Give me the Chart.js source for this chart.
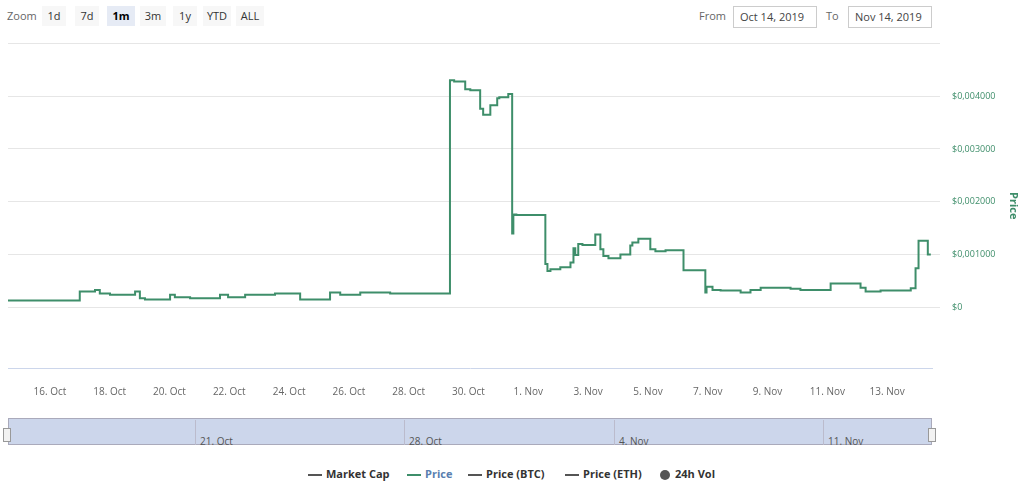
<!DOCTYPE html>
<html><head><meta charset="utf-8">
<script src="https://cdn.jsdelivr.net/npm/chart.js@4"></script>
<style>
body{margin:0;width:1024px;height:488px;background:#fff;font-family:"Open Sans",sans-serif;color:#333;position:relative;overflow:hidden}
.btn{position:absolute;top:6px;height:20px;line-height:20px;font-size:11px;color:#333;background:#f7f7f7;text-align:center}
.inp{position:absolute;top:6px;height:20px;line-height:20px;font-size:11px;border:1px solid #ccc;padding:0 6px;color:#444;white-space:nowrap;overflow:hidden}
#nav{position:absolute;left:8px;top:418px;width:924px;height:27px;background:#ccd6eb;border:1px solid #aab;box-sizing:border-box}
.nl{position:absolute;top:420px;font-size:10px;color:#555;border-left:1px solid #bbc;height:25px;padding-left:4px;line-height:42px}
.lg{position:absolute;top:466px;font-size:11px;font-weight:bold;color:#333;white-space:nowrap}
.lg i{display:inline-block;width:14px;height:2px;background:#555;vertical-align:middle;margin-right:4px}
</style></head><body>
<div style="position:absolute;left:7px;top:6px;font-size:11px;line-height:20px;color:#666">Zoom</div>
<div class="btn" style="left:42px;width:24px">1d</div>
<div class="btn" style="left:75px;width:24px">7d</div>
<div class="btn" style="left:107px;width:28px;background:#e6ebf5;font-weight:bold;color:#000">1m</div>
<div class="btn" style="left:140px;width:26px">3m</div>
<div class="btn" style="left:173px;width:24px">1y</div>
<div class="btn" style="left:203px;width:28px">YTD</div>
<div class="btn" style="left:236px;width:28px">ALL</div>
<div style="position:absolute;left:699px;top:6px;font-size:11px;line-height:20px;color:#666">From</div>
<div class="inp" style="left:733px;width:70px">Oct 14, 2019</div>
<div style="position:absolute;left:826px;top:6px;font-size:11px;line-height:20px;color:#666">To</div>
<div class="inp" style="left:848px;width:70px">Nov 14, 2019</div>
<div style="position:absolute;left:0;top:26px;width:1024px;height:374px"><canvas id="c"></canvas></div>
<div id="nav"></div>
<div class="nl" style="left:195px">21. Oct</div>
<div class="nl" style="left:404px">28. Oct</div>
<div class="nl" style="left:614px">4. Nov</div>
<div class="nl" style="left:823px">11. Nov</div>
<div style="position:absolute;left:3px;top:428px;width:6px;height:12px;background:#f2f2f2;border:1px solid #999"></div>
<div style="position:absolute;left:928px;top:428px;width:6px;height:12px;background:#f2f2f2;border:1px solid #999"></div>
<div class="lg" style="left:308px"><i></i>Market Cap</div>
<div class="lg" style="left:407px;color:#5a7fb0"><i style="background:#3e8e6a"></i>Price</div>
<div class="lg" style="left:468px"><i></i>Price (BTC)</div>
<div class="lg" style="left:565px"><i></i>Price (ETH)</div>
<div class="lg" style="left:660px"><span style="display:inline-block;width:10px;height:10px;border-radius:5px;background:#555;vertical-align:middle;margin-right:5px"></span>24h Vol</div>
<script>
const days=[0.59,3.0,3.51,3.67,4.01,4.85,5.01,5.18,6.02,6.18,6.69,7.69,7.96,8.53,9.53,10.37,10.54,11.37,11.71,12.38,13.38,14.39,15.38,15.52,15.89,16.06,16.39,16.49,16.73,16.96,17.03,17.33,17.46,17.5,17.53,17.6,18.57,18.64,18.74,19.07,19.41,19.51,19.57,19.67,19.81,20.24,20.41,20.51,20.68,21.08,21.41,21.48,21.68,22.08,22.25,22.59,23.19,23.26,23.92,23.96,24.16,24.43,25.1,25.43,25.77,26.77,27.1,28.11,29.11,29.28,29.78,30.79,30.95,31.05,31.12,31.36,31.46];
const price=[0.00015,0.00013,0.0003,0.00033,0.00026,0.00024,0.0003,0.00017,0.00015,0.00024,0.00019,0.00017,0.00024,0.00019,0.00024,0.00026,0.00015,0.00015,0.00028,0.00024,0.00028,0.00026,0.00026,0.0043,0.00428,0.00413,0.00411,0.00376,0.00365,0.00383,0.00396,0.00398,0.00404,0.0014,0.00175,0.00176,0.00175,0.00082,0.00069,0.00072,0.00076,0.00085,0.00112,0.00099,0.0012,0.00118,0.00138,0.0011,0.00097,0.00093,0.001,0.00117,0.00123,0.0013,0.0011,0.00106,0.00108,0.0007,0.0007,0.00028,0.00039,0.00033,0.00032,0.00028,0.00033,0.00037,0.00035,0.00033,0.00045,0.00037,0.0003,0.00032,0.00036,0.00074,0.00126,0.00126,0.001];
const tickDays=[2,4,6,8,10,12,14,16,18,20,22,24,26,28,30];
const tickLabels=["16. Oct","18. Oct","20. Oct","22. Oct","24. Oct","26. Oct","28. Oct","30. Oct","1. Nov","3. Nov","5. Nov","7. Nov","9. Nov","11. Nov","13. Nov"];
const yTicks=[0,0.001,0.002,0.003,0.004,0.005];
new Chart(document.getElementById('c'),{type:'line',
data:{datasets:[{data:days.map((d,i)=>({x:d,y:price[i]})),borderColor:'#3e8e6a',borderWidth:2,pointRadius:0,tension:0,stepped:'after'}]},
options:{responsive:true,maintainAspectRatio:false,animation:false,
layout:{padding:{left:8,right:0,top:0,bottom:0}},
plugins:{legend:{display:false},tooltip:{enabled:false}},
scales:{
x:{type:'linear',min:0.6,max:31.5,grid:{display:false},border:{color:'#ccd6eb'},
 afterBuildTicks:s=>{s.ticks=tickDays.map(v=>({value:v}));},
 afterFit:s=>{s.height=32},
 ticks:{autoSkip:false,maxRotation:0,color:'#666',font:{size:10,family:'Open Sans'},padding:10,callback:v=>tickLabels[tickDays.indexOf(v)]}},
y:{position:'right',min:-0.00115,max:0.005,grid:{color:'#e6e6e6'},border:{display:false},
 afterBuildTicks:s=>{s.ticks=yTicks.map(v=>({value:v}));},
 afterFit:s=>{s.width=92},
 title:{display:true,text:'Price',color:'#3e8e6a',font:{size:11,weight:'bold',family:'Open Sans'}},
 ticks:{color:'#3e8e6a',font:{size:9,family:'Open Sans'},padding:12,callback:v=>v>0.0045?'':(v===0?'$0':'$'+v.toFixed(6).replace('.',','))}}
}}});
</script>
</body></html>
